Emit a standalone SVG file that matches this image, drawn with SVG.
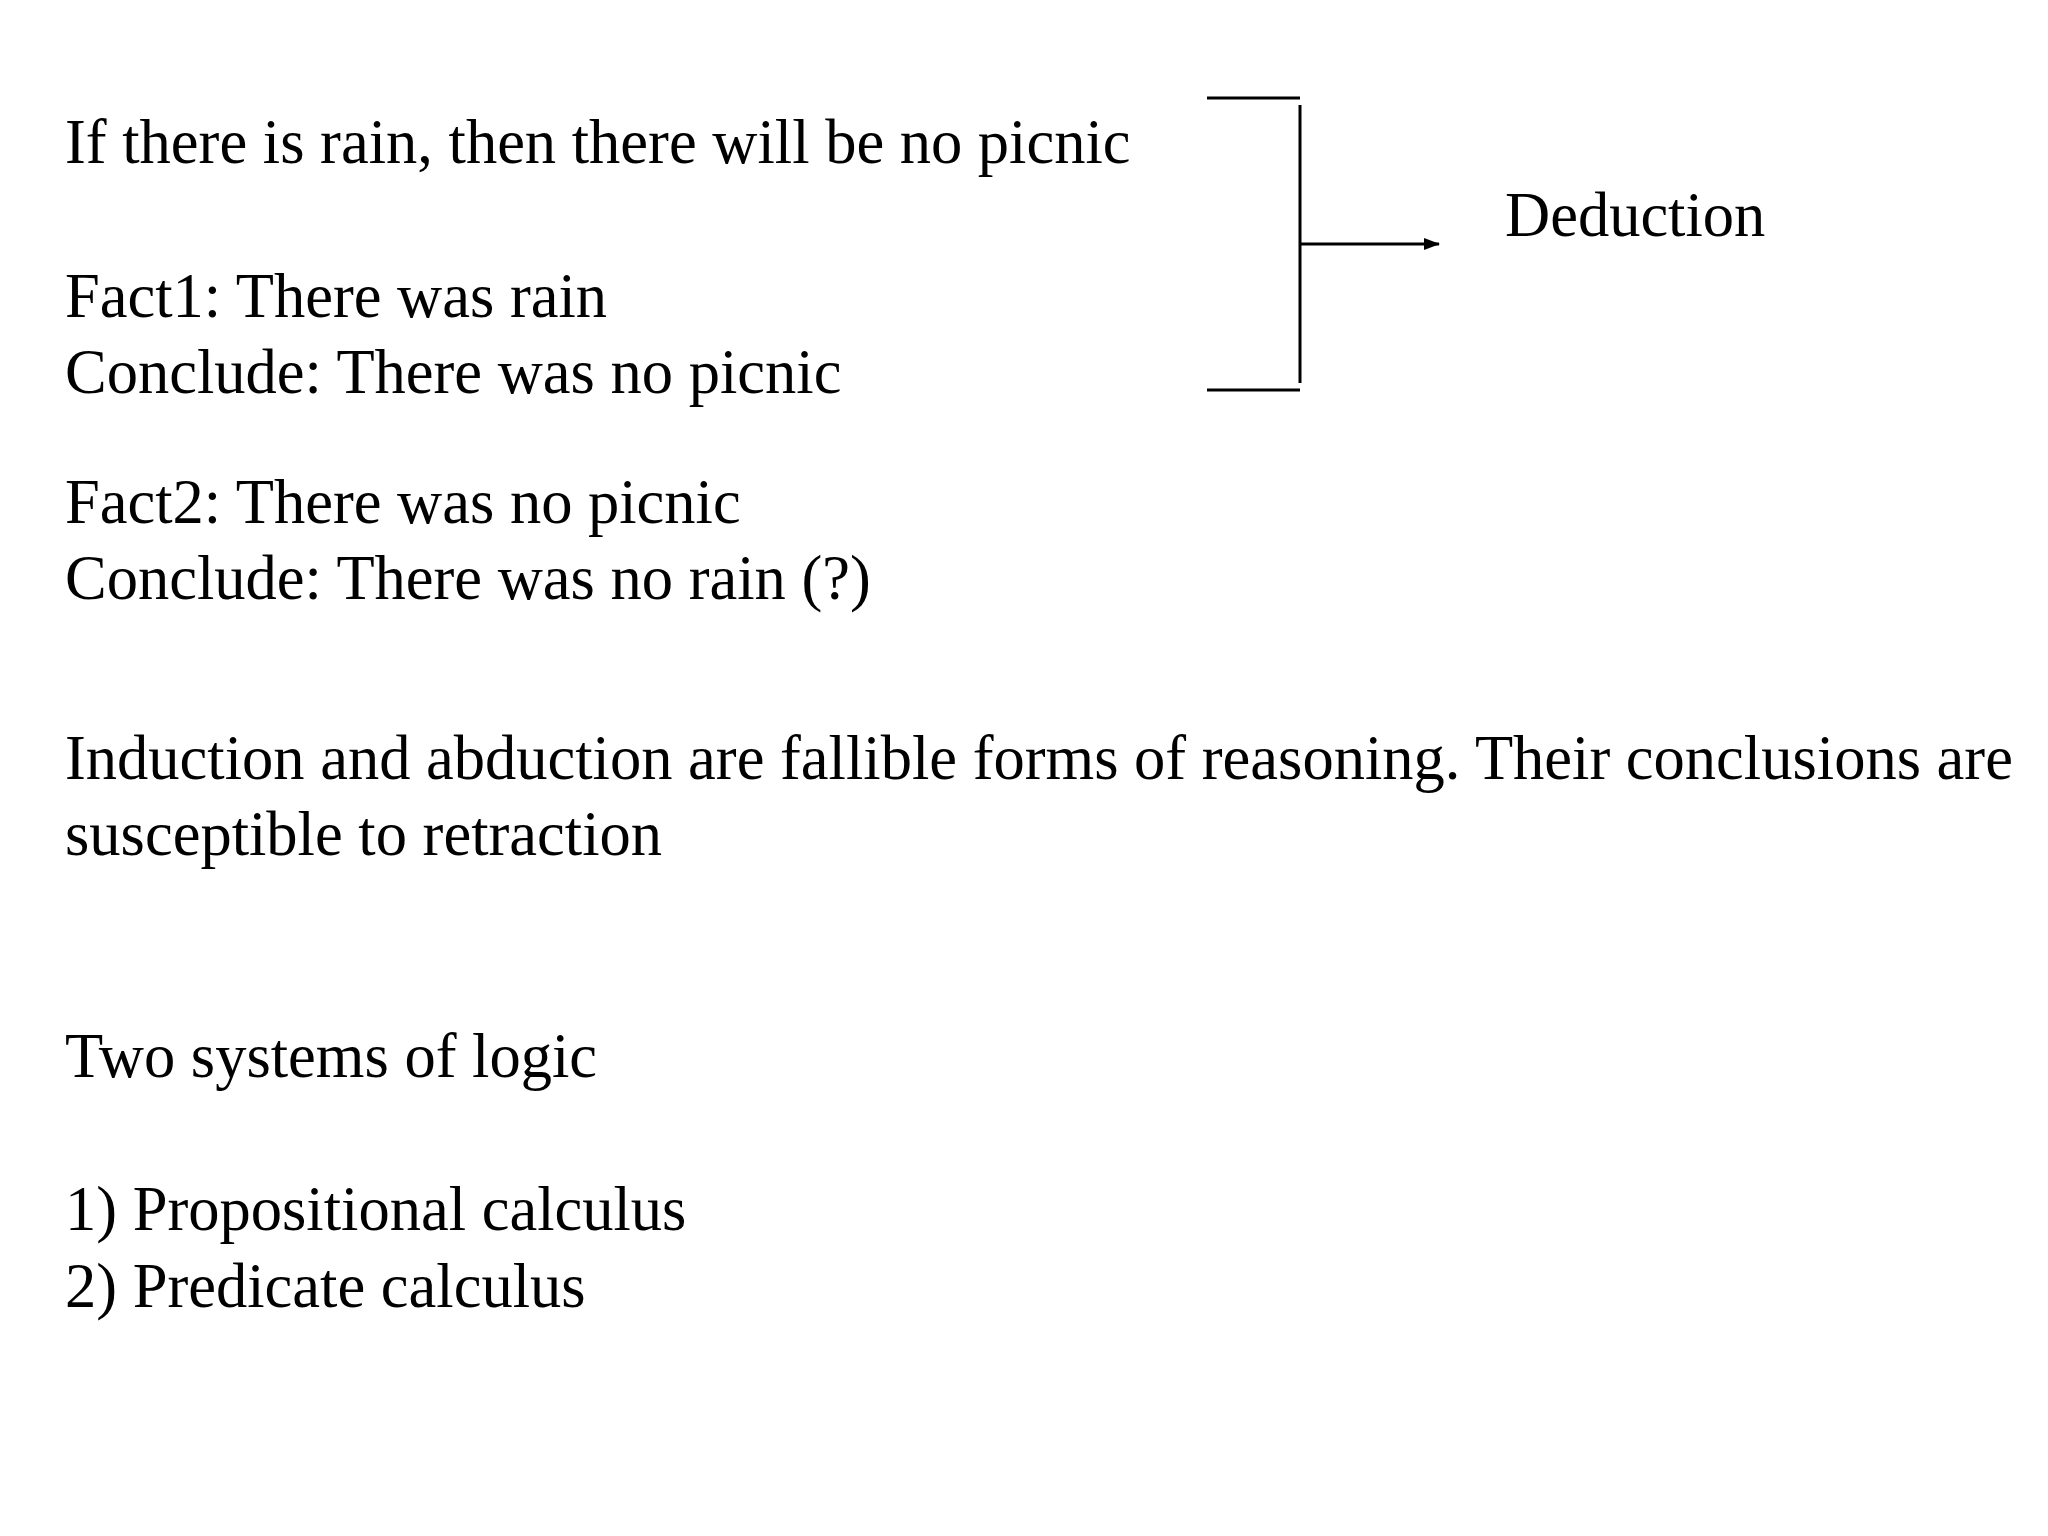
<svg xmlns="http://www.w3.org/2000/svg" width="2048" height="1536" viewBox="0 0 2048 1536">
<style>text{font-family:"Liberation Serif","Times New Roman",serif;font-size:62.5px;fill:#000}line{stroke:#000;stroke-width:3}</style>
<defs><marker id="a" markerWidth="16" markerHeight="12" refX="15" refY="6" orient="auto" markerUnits="userSpaceOnUse"><path d="M0,0L16,6L0,12z" fill="#000"/></marker></defs>
<rect width="2048" height="1536" fill="#fff"/>
<g id="text">
<text x="65" y="163">If there is rain, then there will be no picnic</text>
<text x="65" y="317">Fact1: There was rain</text>
<text x="65" y="393">Conclude: There was no picnic</text>
<text x="65" y="523">Fact2: There was no picnic</text>
<text x="65" y="599">Conclude: There was no rain (?)</text>
<text x="65" y="779">Induction and abduction are fallible forms of reasoning. Their conclusions are</text>
<text x="65" y="855">susceptible to retraction</text>
<text x="65" y="1077">Two systems of logic</text>
<text x="65" y="1230">1) Propositional calculus</text>
<text x="65" y="1307">2) Predicate calculus</text>
</g>
<g id="deduction"><text x="1505" y="236">Deduction</text></g>
<g id="connectors">
<line x1="1207" y1="98" x2="1300" y2="98"/>
<line x1="1300" y1="105" x2="1300" y2="383"/>
<line x1="1207" y1="390" x2="1300" y2="390"/>
<line x1="1301" y1="244" x2="1439" y2="244" marker-end="url(#a)"/>
</g>
</svg>
